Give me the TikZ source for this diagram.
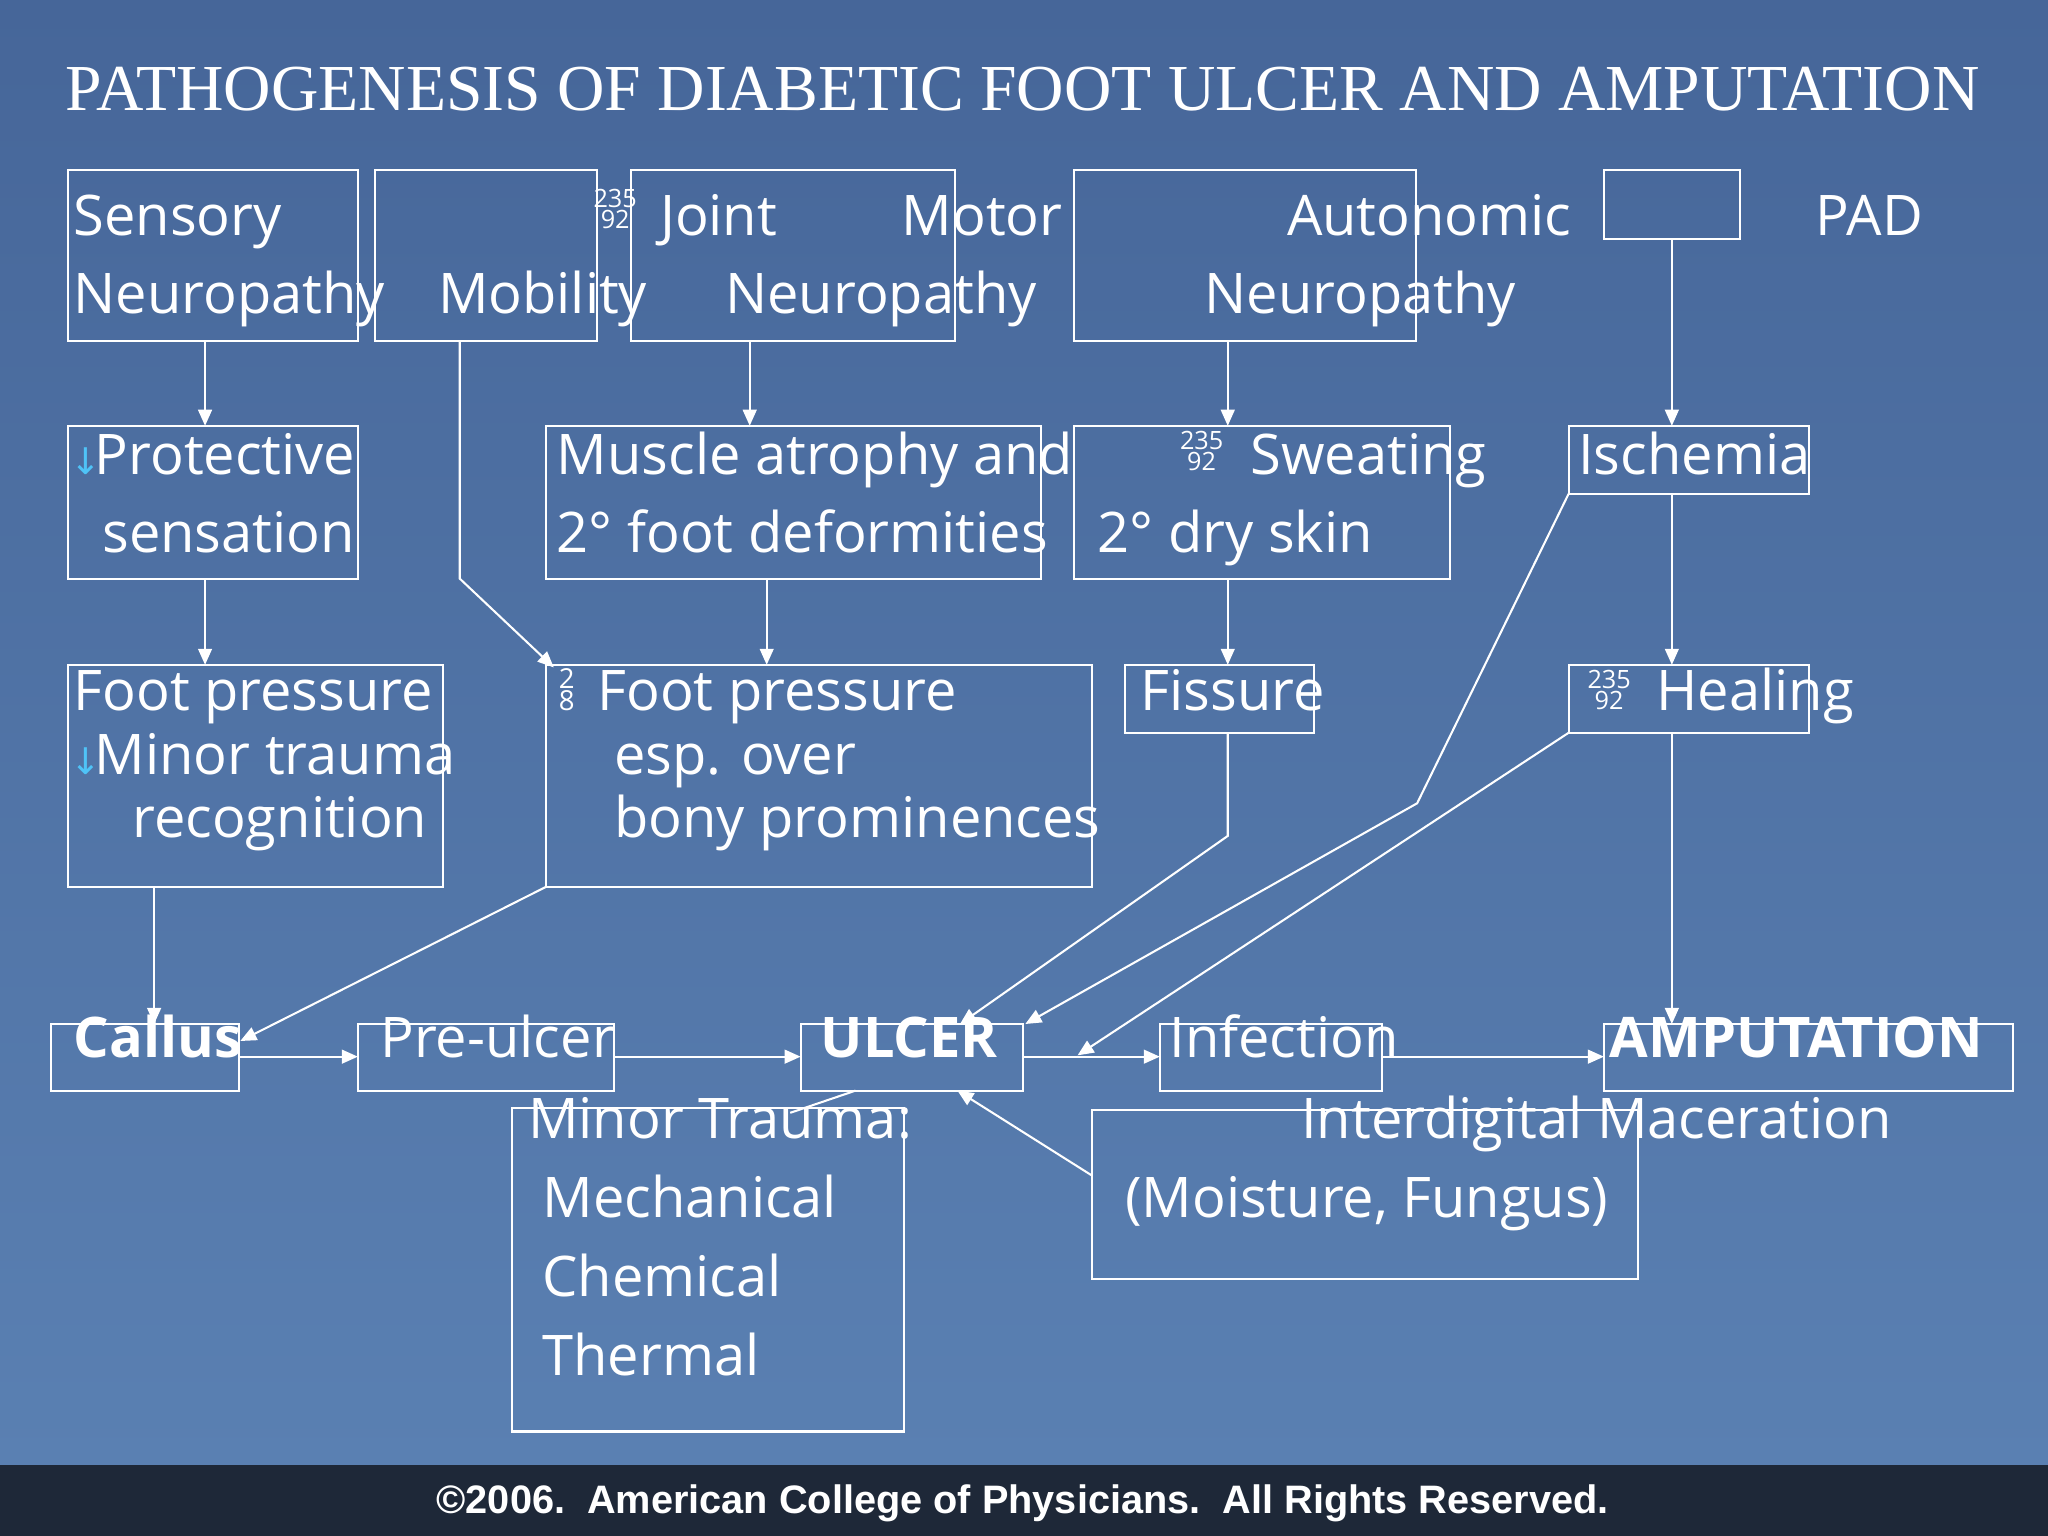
\documentclass[tikz,border=0pt]{standalone}
\usepackage{fontspec}
\setmainfont{Open Sans}
\newfontfamily\titlefont{Liberation Serif}
\newfontfamily\footfont{Liberation Sans}
\newfontfamily\symfont{DejaVu Sans}
\usetikzlibrary{arrows.meta}
\definecolor{bgtop}{HTML}{466699}
\definecolor{bgbot}{HTML}{5A80B2}
\definecolor{foot}{HTML}{1E2838}
\definecolor{arr}{HTML}{4FC3F7}
\tikzset{
  bx/.style={draw=white,line width=0.9pt},
  tx/.style={anchor=base west,text=white,inner sep=0pt,font=\fontsize{24.4}{28}\selectfont},
  con/.style={draw=white,line width=0.9pt,-{Triangle[length=7pt,width=6pt]}},
  ln/.style={draw=white,line width=0.9pt},
}
\newcommand{\nn}{{\fontsize{11}{10}\selectfont\shortstack{235\\[-2pt]92}}}
\newcommand{\dn}{{\color{arr}\symfont\fontsize{16}{16}\selectfont↓}}
\begin{document}
\begin{tikzpicture}[x=0.02cm,y=-0.02cm]
\useasboundingbox (0,0) rectangle (1568,1176);
\shade[top color=bgtop,bottom color=bgbot] (0,0) rectangle (1568,1122);
\fill[foot] (0,1122) rectangle (1568,1176);
\node[text=white,font=\footfont\bfseries\fontsize{17.3}{19}\selectfont] (ft) at (783,1151) {©2006.\ \ American College of Physicians.\ \ All Rights Reserved.};
\node[text=white,font=\titlefont\fontsize{28.6}{32}\selectfont] (ti) at (783,68) {PATHOGENESIS OF DIABETIC FOOT ULCER AND AMPUTATION};
% boxes
\draw[bx] (52,130) rectangle (274,261);
\draw[bx] (287,130) rectangle (457,261);
\draw[bx] (483,130) rectangle (731,261);
\draw[bx] (822,130) rectangle (1084,261);
\draw[bx] (1228,130) rectangle (1332,183);
\draw[bx] (52,326) rectangle (274,443);
\draw[bx] (418,326) rectangle (797,443);
\draw[bx] (822,326) rectangle (1110,443);
\draw[bx] (1201,326) rectangle (1385,378);
\draw[bx] (52,509) rectangle (339,679);
\draw[bx] (418,509) rectangle (836,679);
\draw[bx] (861,509) rectangle (1006,561);
\draw[bx] (1201,509) rectangle (1385,561);
\draw[bx] (39,784) rectangle (183,835);
\draw[bx] (274,784) rectangle (470,835);
\draw[bx] (613,784) rectangle (783,835);
\draw[bx] (888,784) rectangle (1058,835);
\draw[bx] (1228,784) rectangle (1541,835);
\draw[bx] (392,848) rectangle (692,1096);
\draw[bx] (836,850) rectangle (1254,979);
% texts
\node[tx] (t1) at (56,180) {Sensory};
\node[tx] (t2) at (56,240) {Neuropathy};
\node[tx] (t3) at (335,240) {Mobility};
\node[text=white,inner sep=0pt] (n1) at (471,160) {\nn};
\node[tx] (t4) at (505,180) {Joint};
\node[tx] (t5) at (690,180) {Motor};
\node[tx] (t6) at (555,240) {Neuropathy};
\node[tx] (t7) at (985,180) {Autonomic};
\node[tx] (t8) at (922,240) {Neuropathy};
\node[tx] (t9) at (1390,180) {PAD};
\node[tx] (t10) at (54,363) {\dn\hspace{-3pt}Protective};
\node[tx] (t11) at (78,423) {sensation};
\node[tx] (t12) at (426,363) {Muscle atrophy and};
\node[tx] (t13) at (426,423) {2° foot deformities};
\node[text=white,inner sep=0pt] (n2) at (920,345) {\nn};
\node[tx] (t14) at (957,363) {Sweating};
\node[tx] (t15) at (840,423) {2° dry skin};
\node[tx] (t16) at (1208,363) {Ischemia};
\node[tx] (t17) at (56,544) {Foot pressure};
\node[tx] (t18) at (54,593) {\dn\hspace{-3pt}Minor trauma};
\node[tx] (t19) at (101,641) {recognition};
\node[text=white,inner sep=0pt,font=\fontsize{12}{11}\selectfont] (n3) at (434,528) {\shortstack{2\\[-2pt]8}};
\node[tx] (t20) at (457,544) {Foot pressure};
\node[tx] (t21) at (470,593) {esp. over};
\node[tx] (t22) at (470,641) {bony prominences};
\node[tx] (t23) at (873,544) {Fissure};
\node[text=white,inner sep=0pt] (n4) at (1232,528) {\nn};
\node[tx] (t24) at (1268,544) {Healing};
\node[tx,font=\bfseries\fontsize{24.4}{28}\selectfont] (t25) at (56,810) {Callus};
\node[tx] (t26) at (291,810) {Pre-ulcer};
\node[tx,font=\bfseries\fontsize{24.4}{28}\selectfont] (t27) at (628,810) {ULCER};
\node[tx] (t28) at (895,810) {Infection};
\node[tx,font=\bfseries\fontsize{24.4}{28}\selectfont] (t29) at (1232,810) {AMPUTATION};
\node[tx] (t30) at (404,872) {Minor Trauma:};
\node[tx] (t31) at (415,932) {Mechanical};
\node[tx] (t32) at (415,993) {Chemical};
\node[tx] (t33) at (415,1053) {Thermal};
\node[tx] (t34) at (996,872) {Interdigital Maceration};
\node[tx] (t35) at (861,932) {(Moisture, Fungus)};
% connectors
\draw[con] (157,261) -- (157,326);
\draw[con] (574,261) -- (574,326);
\draw[con] (940,261) -- (940,326);
\draw[con] (1280,183) -- (1280,326);
\draw[con] (157,443) -- (157,509);
\draw[con] (587,443) -- (587,509);
\draw[con] (940,443) -- (940,509);
\draw[con] (1280,378) -- (1280,509);
\draw[con] (352,261) -- (352,443) -- (424,511);
\draw[con] (118,679) -- (118,784);
\draw[con] (418,679) -- (184,797);
\draw[con] (183,809) -- (274,809);
\draw[con] (470,809) -- (613,809);
\draw[con] (783,809) -- (888,809);
\draw[con] (1058,809) -- (1228,809);
\draw[con] (1280,561) -- (1280,784);
\draw[con] (940,561) -- (940,640) -- (735,784);
\draw[con] (1201,378) -- (1085,615) -- (785,784);
\draw[con] (1201,561) -- (825,808);
\draw[con] (836,900) -- (733,835);
\draw[ln] (605,852) -- (655,835);
\end{tikzpicture}
\end{document}
